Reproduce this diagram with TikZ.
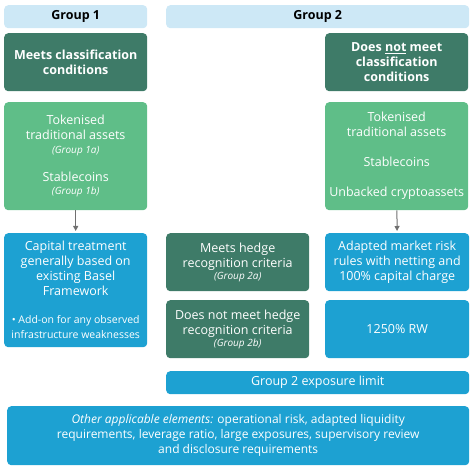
\documentclass[tikz,border=0pt]{standalone}
\usepackage{fontspec}
\setmainfont{Open Sans}
\usetikzlibrary{arrows.meta}
\definecolor{hdrblue}{HTML}{CDE8F6}
\definecolor{dkgreen}{HTML}{3E7B68}
\definecolor{ltgreen}{HTML}{5FBE88}
\definecolor{capblue}{HTML}{1DA1D2}
\definecolor{arrgray}{HTML}{707070}
\newcommand{\grp}[1]{{\fontsize{10}{12}\selectfont\itshape(#1)}}
\tikzset{
  hdr/.style={fill=hdrblue, rounded corners=4pt, anchor=north west, minimum height=23pt, inner sep=0pt, font=\bfseries\fontsize{12.5}{15}\selectfont},
  condbox/.style={fill=dkgreen, text=white, rounded corners=4pt, anchor=north west, minimum width=143pt, align=center, inner sep=2pt, font=\bfseries\fontsize{12.5}{15}\selectfont},
  assetbox/.style={fill=ltgreen, text=white, rounded corners=4pt, anchor=north west, minimum width=143pt, minimum height=108pt, align=center, inner sep=2pt, font=\fontsize{12.5}{15}\selectfont},
  hedgebox/.style={fill=dkgreen, text=white, rounded corners=4pt, anchor=north west, minimum width=143pt, minimum height=58pt, align=center, inner sep=2pt, font=\fontsize{12.5}{15}\selectfont},
  treatbox/.style={fill=capblue, text=white, rounded corners=4pt, anchor=north west, align=center, inner sep=2pt, font=\fontsize{12.5}{15}\selectfont},
  arrow/.style={-{Triangle[length=5pt,width=5pt]}, draw=arrgray, line width=1pt, shorten >=2pt}
}
\begin{document}
\begin{tikzpicture}[x=1pt, y=-1pt]
\useasboundingbox (0,0) rectangle (474,470);
% headers
\node[hdr, minimum width=143pt] (grpone) at (4,5) {Group 1};
\node[hdr, minimum width=303pt] (grptwo) at (166,5) {Group 2};
% classification
\node[condbox, minimum height=58pt] (meets) at (4,33) {Meets classification\\conditions};
\node[condbox, minimum height=58pt] (notmeets) at (325,33) {Does \underline{not} meet\\classification\\conditions};
% assets
\node[assetbox] (tokone) at (4,102) {Tokenised\\traditional assets\\[-1pt]\grp{Group 1a}\\[13pt]Stablecoins\\[-2pt]\grp{Group 1b}};
\node[assetbox] (toktwo) at (325,102) {Tokenised\\traditional assets\\[15pt]Stablecoins\\[15pt]Unbacked cryptoassets};
% treatment
\node[treatbox, minimum width=143pt, minimum height=114pt] (captreat) at (4,233) {Capital treatment\\generally based on\\existing Basel\\Framework\\[13pt]{\fontsize{10.5}{12}\selectfont\textbullet\ Add-on for any observed}\\{\fontsize{10.5}{12}\selectfont infrastructure weaknesses}};
\node[hedgebox] (hedgea) at (166,233) {Meets hedge\\recognition criteria\\[-3pt]\grp{Group 2a}};
\node[hedgebox] (hedgeb) at (166,300) {Does not meet hedge\\recognition criteria\\[-3pt]\grp{Group 2b}};
\node[treatbox, minimum width=144pt, minimum height=58pt] (mktrisk) at (325,233) {Adapted market risk\\rules with netting and\\100\% capital charge};
\node[treatbox, minimum width=144pt, minimum height=58pt] (rw) at (325,300) {1250\% RW};
\node[treatbox, minimum width=303pt, minimum height=23pt] (exposure) at (166,371) {Group 2 exposure limit};
\node[treatbox, minimum width=462pt, minimum height=59pt, font=\fontsize{12}{15}\selectfont] (other) at (7,406) {\textit{Other applicable elements:} operational risk, adapted liquidity\\requirements, leverage ratio, large exposures, supervisory review\\and disclosure requirements};
% arrows
\draw[arrow] (tokone) -- (captreat);
\draw[arrow] (toktwo) -- (mktrisk);
\end{tikzpicture}
\end{document}
